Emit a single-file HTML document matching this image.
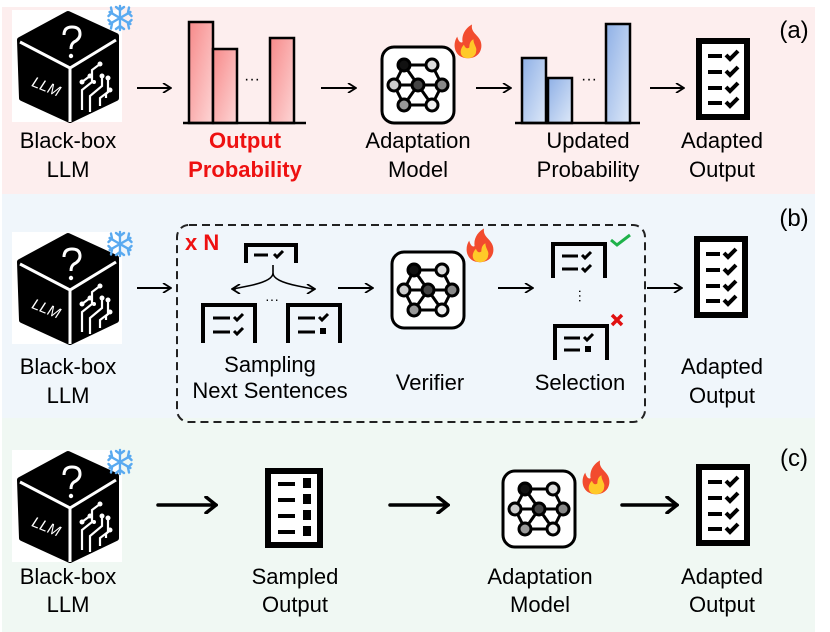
<!DOCTYPE html>
<html><head><meta charset="utf-8"><style>
html,body{margin:0;padding:0;background:#fff}
svg{display:block}
text{font-family:"Liberation Sans",Arial,sans-serif;fill:#000}
</style></head><body>
<svg width="830" height="632" viewBox="0 0 830 632" xmlns="http://www.w3.org/2000/svg">
<defs>
<linearGradient id="rg" x1="0" y1="0" x2="1" y2="1"><stop offset="0" stop-color="#f78a8a"/><stop offset="1" stop-color="#fdd6d6"/></linearGradient>
<linearGradient id="bg" x1="0" y1="0" x2="1" y2="1"><stop offset="0" stop-color="#8fb0e6"/><stop offset="1" stop-color="#dde8f8"/></linearGradient>
<g id="cube">
<rect x="0" y="0" width="110" height="112" fill="#fff"/>
<polygon points="56,4 104,26 104,88 58,110 10,88 8,30" fill="#000" stroke="#000" stroke-width="6" stroke-linejoin="round"/>
<polyline points="8,32 58,58 104,30" fill="none" stroke="#fff" stroke-width="3"/>
<line x1="58" y1="58" x2="58" y2="112" stroke="#fff" stroke-width="3"/>
<path d="M52,25 q0,-8 8,-8 q8,0 8,7 q0,5 -6,8 q-3,2 -3,7" fill="none" stroke="#fff" stroke-width="3"/>
<circle cx="59" cy="46" r="2.2" fill="#fff"/>
<g stroke="#fff" stroke-width="2.2" fill="none">
<path d="M70,100 v-20 l10,-8 v-12 l8,-6"/><path d="M78,102 v-16 l12,-10 v-10"/><path d="M88,96 v-8 l8,-6 v-14"/>
<path d="M70,72 l8,-6"/><path d="M94,88 v-4 l4,-4"/>
</g>
<g fill="#fff"><circle cx="88" cy="54" r="2.5"/><circle cx="90" cy="66" r="2.5"/><circle cx="96" cy="68" r="2.5"/><circle cx="78" cy="66" r="2.5"/><circle cx="98" cy="80" r="2.5"/><circle cx="70" cy="72" r="2.5"/><circle cx="82" cy="72" r="2"/></g>
<text x="20" y="80" font-size="15" font-style="italic" fill="#fff" style="fill:#fff" transform="rotate(22 30 75)">LLM</text>
</g>
<g id="snow" stroke="#5aaaf0" stroke-width="2.4" fill="none" stroke-linecap="round">
<line x1="0" y1="-12" x2="0" y2="12"/><line x1="-10.4" y1="-6" x2="10.4" y2="6"/><line x1="-10.4" y1="6" x2="10.4" y2="-6"/>
<path d="M-4,-11 l4,3 l4,-3 M-4,11 l4,-3 l4,3 M-11.5,-2 l3.5,-3.5 l-1,-5 M11.5,2 l-3.5,3.5 l1,5 M11.5,-2 l-3.5,-3.5 l1,-5 M-11.5,2 l3.5,3.5 l-1,5"/>
</g>
<g id="fire" transform="scale(1.35)">
<path d="M0,12 C-10,12 -12,2 -8,-4 C-7,0 -5,1 -4,0 C-5,-6 -1,-11 3,-13 C2,-8 6,-6 8,-3 C12,2 10,12 0,12Z" fill="#f24b2e"/>
<path d="M0,12 C-6,12 -7,6 -3,2 C-2,5 0,5 1,4 C1,1 2,-1 4,-2 C4,2 7,4 6,7 C6,10 3,12 0,12Z" fill="#ffc928"/>
</g>
<g id="model">
<rect x="2" y="2" width="72" height="76" rx="12" fill="#fff" stroke="#000" stroke-width="3"/>
<g stroke="#000" stroke-width="3">
<line x1="24" y1="20" x2="48" y2="20"/><line x1="24" y1="20" x2="14" y2="40"/><line x1="52" y1="20" x2="62" y2="40"/>
<line x1="14" y1="40" x2="62" y2="40"/><line x1="14" y1="40" x2="24" y2="60"/><line x1="62" y1="40" x2="52" y2="60"/>
<line x1="24" y1="60" x2="52" y2="60"/><line x1="38" y1="40" x2="24" y2="20"/><line x1="38" y1="40" x2="24" y2="60"/><line x1="38" y1="40" x2="52" y2="60"/>
</g>
<g stroke="#000" stroke-width="3">
<circle cx="24" cy="20" r="6" fill="#111"/><circle cx="52" cy="20" r="6" fill="#ddd"/>
<circle cx="14" cy="40" r="6" fill="#ccc"/><circle cx="38" cy="40" r="6" fill="#444"/><circle cx="62" cy="40" r="6" fill="#888"/>
<circle cx="24" cy="60" r="6" fill="#999"/><circle cx="52" cy="60" r="6" fill="#eee"/>
</g>
</g>
<g id="doc">
<rect x="3" y="3" width="48" height="76" fill="#fff" stroke="#000" stroke-width="6"/>
<g stroke="#000" stroke-width="4"><line x1="12" y1="18" x2="26" y2="18"/><line x1="12" y1="34" x2="26" y2="34"/><line x1="12" y1="50" x2="26" y2="50"/><line x1="12" y1="65" x2="26" y2="65"/></g>
<g stroke="#000" stroke-width="4" fill="none"><path d="M30,17 l4,4 l8,-8"/><path d="M30,33 l4,4 l8,-8"/><path d="M30,49 l4,4 l8,-8"/><path d="M30,64 l4,4 l8,-8"/></g>
</g>
<g id="doc2">
<rect x="3" y="3" width="52" height="74" fill="#fff" stroke="#000" stroke-width="6"/>
<g stroke="#000" stroke-width="4"><line x1="13" y1="16" x2="30" y2="16"/><line x1="13" y1="32" x2="30" y2="32"/><line x1="13" y1="48" x2="30" y2="48"/><line x1="13" y1="64" x2="30" y2="64"/></g>
<g fill="#000"><rect x="38" y="10" width="8" height="10"/><rect x="38" y="26" width="8" height="10"/><rect x="38" y="42" width="8" height="10"/><rect x="38" y="58" width="8" height="10"/></g>
</g>
<marker id="ah" markerWidth="10" markerHeight="10" refX="8" refY="5" orient="auto" markerUnits="userSpaceOnUse"><path d="M1,0 L9,5 L1,10" fill="none" stroke="#000" stroke-width="1.8"/></marker>
<marker id="ah2" markerWidth="14" markerHeight="18" refX="12" refY="9" orient="auto" markerUnits="userSpaceOnUse"><path d="M2,1 L12,9 L2,17" fill="none" stroke="#000" stroke-width="3.5" stroke-linecap="round"/></marker>
</defs>

<rect x="2" y="7" width="813" height="187" fill="#fdeeee"/>
<rect x="2" y="194" width="813" height="224" fill="#f0f6fb"/>
<rect x="2" y="418" width="813" height="214" fill="#f0f8f3"/>

<!-- (a) -->
<use href="#cube" x="12" y="10"/>
<use href="#snow" x="120" y="18"/>
<text x="68" y="148" font-size="22" text-anchor="middle">Black-box</text>
<text x="68" y="177" font-size="22" text-anchor="middle">LLM</text>
<line x1="137" y1="88" x2="170" y2="88" stroke="#000" stroke-width="2" marker-end="url(#ah)"/>
<g stroke="#000" stroke-width="2.5"><rect x="189" y="22" width="24" height="101" fill="url(#rg)"/><rect x="213" y="49" width="24" height="74" fill="url(#rg)"/><rect x="270" y="38" width="24" height="85" fill="url(#rg)"/><line x1="183" y1="123" x2="306" y2="123"/></g>
<text x="252" y="84" font-size="16" text-anchor="middle">···</text>
<text x="245" y="148" font-size="22" font-weight="bold" text-anchor="middle" style="fill:#ee1111">Output</text>
<text x="245" y="177" font-size="22" font-weight="bold" text-anchor="middle" style="fill:#ee1111">Probability</text>
<line x1="321" y1="88" x2="355" y2="88" stroke="#000" stroke-width="2" marker-end="url(#ah)"/>
<use href="#model" x="380" y="45"/>
<use href="#fire" x="468" y="42"/>
<text x="418" y="148" font-size="22" text-anchor="middle">Adaptation</text>
<text x="418" y="177" font-size="22" text-anchor="middle">Model</text>
<line x1="476" y1="88" x2="510" y2="88" stroke="#000" stroke-width="2" marker-end="url(#ah)"/>
<g stroke="#000" stroke-width="2.5"><rect x="522" y="58" width="24" height="65" fill="url(#bg)"/><rect x="548" y="78" width="24" height="45" fill="url(#bg)"/><rect x="606" y="24" width="24" height="99" fill="url(#bg)"/><line x1="515" y1="123" x2="640" y2="123"/></g>
<text x="589" y="84" font-size="16" text-anchor="middle">···</text>
<text x="588" y="148" font-size="22" text-anchor="middle">Updated</text>
<text x="588" y="177" font-size="22" text-anchor="middle">Probability</text>
<line x1="650" y1="88" x2="683" y2="88" stroke="#000" stroke-width="2" marker-end="url(#ah)"/>
<use href="#doc" x="696" y="38"/>
<text x="722" y="148" font-size="22" text-anchor="middle">Adapted</text>
<text x="722" y="177" font-size="22" text-anchor="middle">Output</text>
<text x="794" y="38" font-size="24" text-anchor="middle">(a)</text>

<!-- (b) -->
<use href="#cube" x="12" y="232"/>
<use href="#snow" x="120" y="244"/>
<text x="68" y="374" font-size="22" text-anchor="middle">Black-box</text>
<text x="68" y="403" font-size="22" text-anchor="middle">LLM</text>
<line x1="137" y1="288" x2="170" y2="288" stroke="#000" stroke-width="2" marker-end="url(#ah)"/>
<rect x="177" y="225" width="468" height="197" rx="12" fill="none" stroke="#222" stroke-width="2" stroke-dasharray="8,5"/>
<text x="185" y="250" font-size="22" font-weight="bold" style="fill:#ee1111">x N</text>
<g fill="none" stroke="#000">
<path d="M246,263 v-18 h50 v18" stroke-width="4"/><line x1="254" y1="255" x2="268" y2="255" stroke-width="3"/><path d="M274,254 l3,3 l6,-6" stroke-width="3"/>
<path d="M273,265 v8 q0,8 -25,13 l-15,3 M273,273 q0,8 25,13 l15,3" stroke-width="1.6"/>
</g>
<path d="M236,289 l-3,0" marker-end="url(#ah)" stroke="#000" stroke-width="1.6"/>
<path d="M311,289 l3,0" marker-end="url(#ah)" stroke="#000" stroke-width="1.6"/>
<g fill="none" stroke="#000">
<path d="M203,343 v-38 h52 v38" stroke-width="4"/><line x1="213" y1="318" x2="230" y2="318" stroke-width="3"/><line x1="213" y1="332" x2="230" y2="332" stroke-width="3"/><path d="M234,317 l3,3 l6,-6 M234,331 l3,3 l6,-6" stroke-width="3"/>
<path d="M288,343 v-38 h52 v38" stroke-width="4"/><line x1="298" y1="318" x2="315" y2="318" stroke-width="3"/><line x1="298" y1="332" x2="315" y2="332" stroke-width="3"/><path d="M319,317 l3,3 l6,-6" stroke-width="3"/>
</g>
<rect x="320" y="328" width="6" height="6"/>
<text x="272" y="304" font-size="14" text-anchor="middle">···</text>
<text x="270" y="372" font-size="22" text-anchor="middle">Sampling</text>
<text x="270" y="398" font-size="22" text-anchor="middle">Next Sentences</text>
<line x1="338" y1="288" x2="372" y2="288" stroke="#000" stroke-width="2" marker-end="url(#ah)"/>
<use href="#model" x="390" y="250"/>
<use href="#fire" x="480" y="246"/>
<text x="430" y="390" font-size="22" text-anchor="middle">Verifier</text>
<line x1="498" y1="288" x2="532" y2="288" stroke="#000" stroke-width="2" marker-end="url(#ah)"/>
<g fill="none" stroke="#000">
<path d="M553,278 v-34 h52 v34" stroke-width="4"/><line x1="562" y1="256" x2="578" y2="256" stroke-width="3"/><line x1="562" y1="269" x2="578" y2="269" stroke-width="3"/><path d="M582,255 l3,3 l6,-6 M582,268 l3,3 l6,-6" stroke-width="3"/>
<path d="M555,360 v-34 h52 v34" stroke-width="4"/><line x1="564" y1="338" x2="580" y2="338" stroke-width="3"/><line x1="564" y1="350" x2="580" y2="350" stroke-width="3"/><path d="M584,337 l3,3 l6,-6" stroke-width="3"/>
<path d="M611,240 l6,5 l13,-10" stroke="#1fb24a" stroke-width="3"/>
<path d="M612,315 l10,10 M622,315 l-10,10" stroke="#e01010" stroke-width="3.5"/>
</g>
<rect x="585" y="346" width="6" height="6"/>
<text x="580" y="300" font-size="14" text-anchor="middle" transform="rotate(90 580 296)">···</text>
<text x="580" y="390" font-size="22" text-anchor="middle">Selection</text>
<line x1="647" y1="288" x2="681" y2="288" stroke="#000" stroke-width="2" marker-end="url(#ah)"/>
<use href="#doc" x="694" y="236"/>
<text x="722" y="374" font-size="22" text-anchor="middle">Adapted</text>
<text x="722" y="403" font-size="22" text-anchor="middle">Output</text>
<text x="794" y="226" font-size="24" text-anchor="middle">(b)</text>

<!-- (c) -->
<use href="#cube" x="12" y="450"/>
<use href="#snow" x="120" y="462"/>
<text x="68" y="584" font-size="22" text-anchor="middle">Black-box</text>
<text x="68" y="612" font-size="22" text-anchor="middle">LLM</text>
<line x1="158" y1="505" x2="216" y2="505" stroke="#000" stroke-width="3.5" stroke-linecap="round" marker-end="url(#ah2)"/>
<use href="#doc2" x="265" y="468"/>
<text x="295" y="584" font-size="22" text-anchor="middle">Sampled</text>
<text x="295" y="612" font-size="22" text-anchor="middle">Output</text>
<line x1="390" y1="505" x2="448" y2="505" stroke="#000" stroke-width="3.5" stroke-linecap="round" marker-end="url(#ah2)"/>
<use href="#model" x="501" y="469"/>
<use href="#fire" x="596" y="478"/>
<text x="540" y="584" font-size="22" text-anchor="middle">Adaptation</text>
<text x="540" y="612" font-size="22" text-anchor="middle">Model</text>
<line x1="622" y1="505" x2="677" y2="505" stroke="#000" stroke-width="3.5" stroke-linecap="round" marker-end="url(#ah2)"/>
<use href="#doc" x="696" y="464"/>
<text x="722" y="584" font-size="22" text-anchor="middle">Adapted</text>
<text x="722" y="612" font-size="22" text-anchor="middle">Output</text>
<text x="794" y="466" font-size="24" text-anchor="middle">(c)</text>
</svg>
</body></html>
